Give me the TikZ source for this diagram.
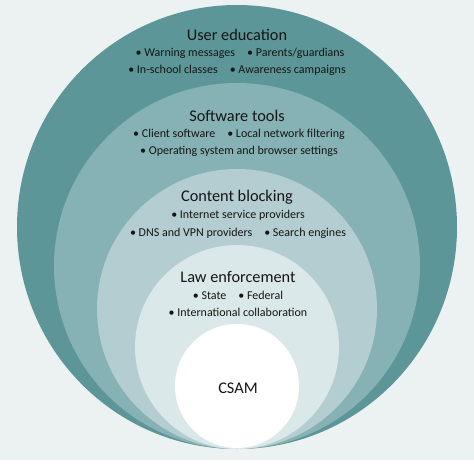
\documentclass[tikz,border=0pt]{standalone}
\usepackage{fontspec}
\setmainfont{Carlito}
\definecolor{bgc}{HTML}{ECF2F2}
\definecolor{ringA}{HTML}{5C9698}
\definecolor{ringB}{HTML}{86B2B5}
\definecolor{ringC}{HTML}{B3CDD0}
\definecolor{ringD}{HTML}{DBE8E9}
\definecolor{txt}{HTML}{151515}
\tikzset{
  head/.style={text=txt, font=\fontsize{16.3}{19}\selectfont, inner sep=0pt},
  item/.style={text=txt, font=\fontsize{12}{14}\selectfont, inner sep=0pt},
}
\begin{document}
\begin{tikzpicture}[x=1pt,y=-1pt]
\useasboundingbox (0,0) rectangle (474,474);
\fill[white] (0,0) rectangle (474,474);
\fill[bgc] (0,0) rectangle (474,460);
\fill[ringA] (237,227) ellipse [x radius=220, y radius=222];
\fill[ringB] (237,266) circle [radius=183];
\fill[ringC] (237,309) circle [radius=140];
\fill[ringD] (237,347) circle [radius=102];
\fill[white] (237,386) circle [radius=62];

\node[head] (ue) at (237,35) {User education};
\node[item] (ue1) at (240,53) {• Warning messages\quad • Parents/guardians};
\node[item] (ue2) at (237,70) {• In-school classes\quad • Awareness campaigns};

\node[head] (st) at (237,116) {Software tools};
\node[item] (st1) at (239,134) {• Client software\quad • Local network filtering};
\node[item] (st2) at (239,151) {• Operating system and browser settings};

\node[head] (cb) at (237,197) {Content blocking};
\node[item] (cb1) at (238,215) {• Internet service providers};
\node[item] (cb2) at (238,233) {• DNS and VPN providers\quad • Search engines};

\node[head] (le) at (238,277) {Law enforcement};
\node[item] (le1) at (238,295) {• State\quad • Federal};
\node[item] (le2) at (238,312) {• International collaboration};

\node[head] (csam) at (238,388) {CSAM};
\end{tikzpicture}
\end{document}
